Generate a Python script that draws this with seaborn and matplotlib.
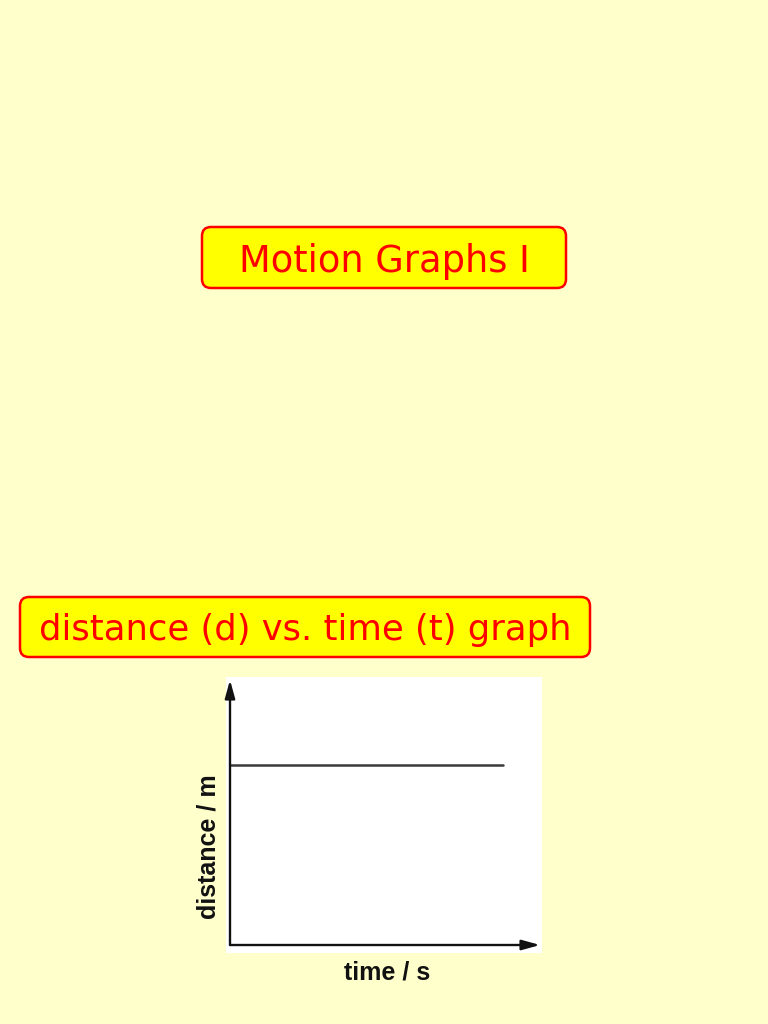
import matplotlib
matplotlib.use("Agg")
import matplotlib.pyplot as plt
import seaborn as sns
import pandas as pd
from matplotlib.patches import FancyBboxPatch, Rectangle

# Data
time_s = [0.0, 8.8]
distance_m = [6.8, 6.8]
title_main = "Motion Graphs I"
title_sub = "distance (d) vs. time (t) graph"
x_label = "time / s"
y_label = "distance / m"

sns.set_theme(style="white")
plt.rcParams['font.family'] = ['DejaVu Sans']

W, H = 768, 1024
fig = plt.figure(figsize=(W / 100, H / 100), dpi=100, facecolor="#ffffcc")

# Background overlay in pixel coordinates
bg = fig.add_axes([0, 0, 1, 1], zorder=0)
bg.set_xlim(0, W)
bg.set_ylim(H, 0)
bg.axis("off")
bg.patch.set_alpha(0)

def box(x0, y0, x1, y1, text, fs, dy):
    p = FancyBboxPatch((x0, y0), x1 - x0, y1 - y0,
                       boxstyle="round,pad=0,rounding_size=9",
                       facecolor="#ffff00", edgecolor="#ff0000", linewidth=1.8)
    bg.add_patch(p)
    bg.text((x0 + x1) / 2, (y0 + y1) / 2 + dy, text, color="#ff0000",
            fontsize=fs, ha="center", va="center")

box(202, 227, 566, 288, title_main, 26.5, 4)
box(20, 597, 590, 657, title_sub, 25.5, 3)

# White panel behind the graph
bg.add_patch(Rectangle((226, 677), 542 - 226, 953 - 677, facecolor="white", edgecolor="none"))

# Main graph axes
left, right, top, bottom = 230, 540, 680, 945
ax = fig.add_axes([left / W, 1 - bottom / H, (right - left) / W, (bottom - top) / H], zorder=1)
ax.patch.set_alpha(0)
df = pd.DataFrame({"time": time_s, "distance": distance_m})
sns.lineplot(data=df, x="time", y="distance", ax=ax, color="#3a3a3a", linewidth=1.8)
ax.set_xlim(0, 10)
ax.set_ylim(0, 10)
for s in ax.spines.values():
    s.set_visible(False)
ax.set_xticks([])
ax.set_yticks([])
ax.set_xlabel("")
ax.set_ylabel("")

arrow = dict(arrowstyle="-|>,head_length=0.9,head_width=0.25", color="#111111", lw=1.7, shrinkA=0, shrinkB=0)
ax.annotate("", xy=(1, 0), xytext=(0, 0), xycoords="axes fraction", arrowprops=arrow)
ax.annotate("", xy=(0, 1), xytext=(0, 0), xycoords="axes fraction", arrowprops=arrow)

bg.text(387, 972, x_label, fontsize=18, fontweight="bold", ha="center", va="center",
        family=["Liberation Sans", "DejaVu Sans"], color="#111111")
bg.text(208, 847, y_label, fontsize=18, fontweight="bold", ha="center", va="center",
        rotation=90, family=["Liberation Sans", "DejaVu Sans"], color="#111111")

fig.savefig("out.png", dpi=100, facecolor=fig.get_facecolor())
